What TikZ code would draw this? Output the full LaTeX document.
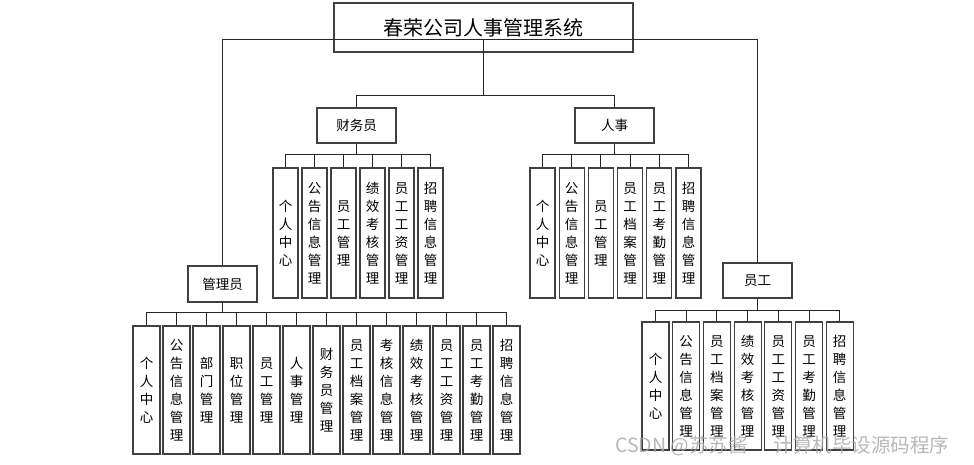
\documentclass[tikz,border=0pt]{standalone}
\usepackage{fontspec}
\setmainfont{Noto Sans CJK SC}
\usepackage{tikz}

\tikzset{
    rootbox/.style={draw=black!75,line width=1.2pt,inner sep=0pt,
        minimum width=299pt,minimum height=49pt,font=\fontsize{20}{24}\selectfont},
    rolebox/.style={draw=black!75,line width=1.2pt,inner sep=0pt,
        minimum height=35pt,font=\fontsize{13.5}{16}\selectfont},
    leafbox/.style={draw=black!75,line width=1.2pt,inner sep=0pt,align=center,
        minimum width=26pt,font=\fontsize{13.5}{18}\selectfont},
    bus/.style={black!85,line width=0.9pt}
}

\begin{document}
\begin{tikzpicture}[x=1pt,y=-1pt]
    \useasboundingbox (0,0) rectangle (974,465);
    \node[rootbox] (root) at (483.5,27.5) {春荣公司人事管理系统};
    \node[rolebox,minimum width=79pt] (fin) at (356.5,125.5) {财务员};
    \node[rolebox,minimum width=79pt] (hr) at (614.5,125.5) {人事};
    \node[rolebox,minimum width=69pt,minimum height=36pt] (admin) at (222.5,284) {管理员};
    \node[rolebox,minimum width=69pt] (staff) at (757.5,280.5) {员工};

    \draw[bus] (root.south) -- ++(0,-13) -| (admin.north);
    \draw[bus] (root.south) -- ++(0,-13) -| (staff.north);
    \draw[bus,line width=1.5pt] (root.south) -- ++(0,43);
    \draw[bus] (root.south) ++(0,43) -| (fin.north);
    \draw[bus] (root.south) ++(0,43) -| (hr.north);

    \foreach \t [count=\i from 0] in {
            {个\\人\\中\\心},{公\\告\\信\\息\\管\\理},{员\\工\\管\\理},
            {绩\\效\\考\\核\\管\\理},{员\\工\\工\\资\\管\\理},{招\\聘\\信\\息\\管\\理}}{
        \node[leafbox,minimum width=25pt,minimum height=130pt] (fin\i) at (285.5+29*\i,233) {\t};
        \draw[bus] (fin.south) -- ++(0,11) -| (fin\i.north);
    }

    \foreach \t [count=\i from 0] in {
            {个\\人\\中\\心},{公\\告\\信\\息\\管\\理},{员\\工\\管\\理},
            {员\\工\\档\\案\\管\\理},{员\\工\\考\\勤\\管\\理},{招\\聘\\信\\息\\管\\理}}{
        \node[leafbox,minimum width=25pt,minimum height=130pt] (hr\i) at (542.5+29.2*\i,233) {\t};
        \draw[bus] (hr.south) -- ++(0,11) -| (hr\i.north);
    }

    \foreach \t [count=\i from 0] in {
            {个\\人\\中\\心},{公\\告\\信\\息\\管\\理},{部\\门\\管\\理},{职\\位\\管\\理},
            {员\\工\\管\\理},{人\\事\\管\\理},{财\\务\\员\\管\\理},{员\\工\\档\\案\\管\\理},
            {考\\核\\信\\息\\管\\理},{绩\\效\\考\\核\\管\\理},{员\\工\\工\\资\\管\\理},
            {员\\工\\考\\勤\\管\\理},{招\\聘\\信\\息\\管\\理}}{
        \node[leafbox,minimum width=27pt,minimum height=128pt] (admin\i) at (146.5+30*\i,390) {\t};
        \draw[bus] (admin.south) -- ++(0,10) -| (admin\i.north);
    }

    \foreach \t [count=\i from 0] in {
            {个\\人\\中\\心},{公\\告\\信\\息\\管\\理},{员\\工\\档\\案\\管\\理},
            {绩\\效\\考\\核\\管\\理},{员\\工\\工\\资\\管\\理},{员\\工\\考\\勤\\管\\理},
            {招\\聘\\信\\息\\管\\理}}{
        \node[leafbox,minimum width=27pt,minimum height=128pt] (staff\i) at (655.5+30.7*\i,386) {\t};
        \draw[bus] (staff.south) -- ++(0,12) -| (staff\i.north);
    }

    \node[anchor=west,text=black!35,opacity=0.8,font=\fontsize{19.5}{22}\selectfont,inner sep=0pt]
        (mark) at (615,446) {CSDN @苏苏酱\hspace{26pt}计算机毕设源码程序};
\end{tikzpicture}
\end{document}
